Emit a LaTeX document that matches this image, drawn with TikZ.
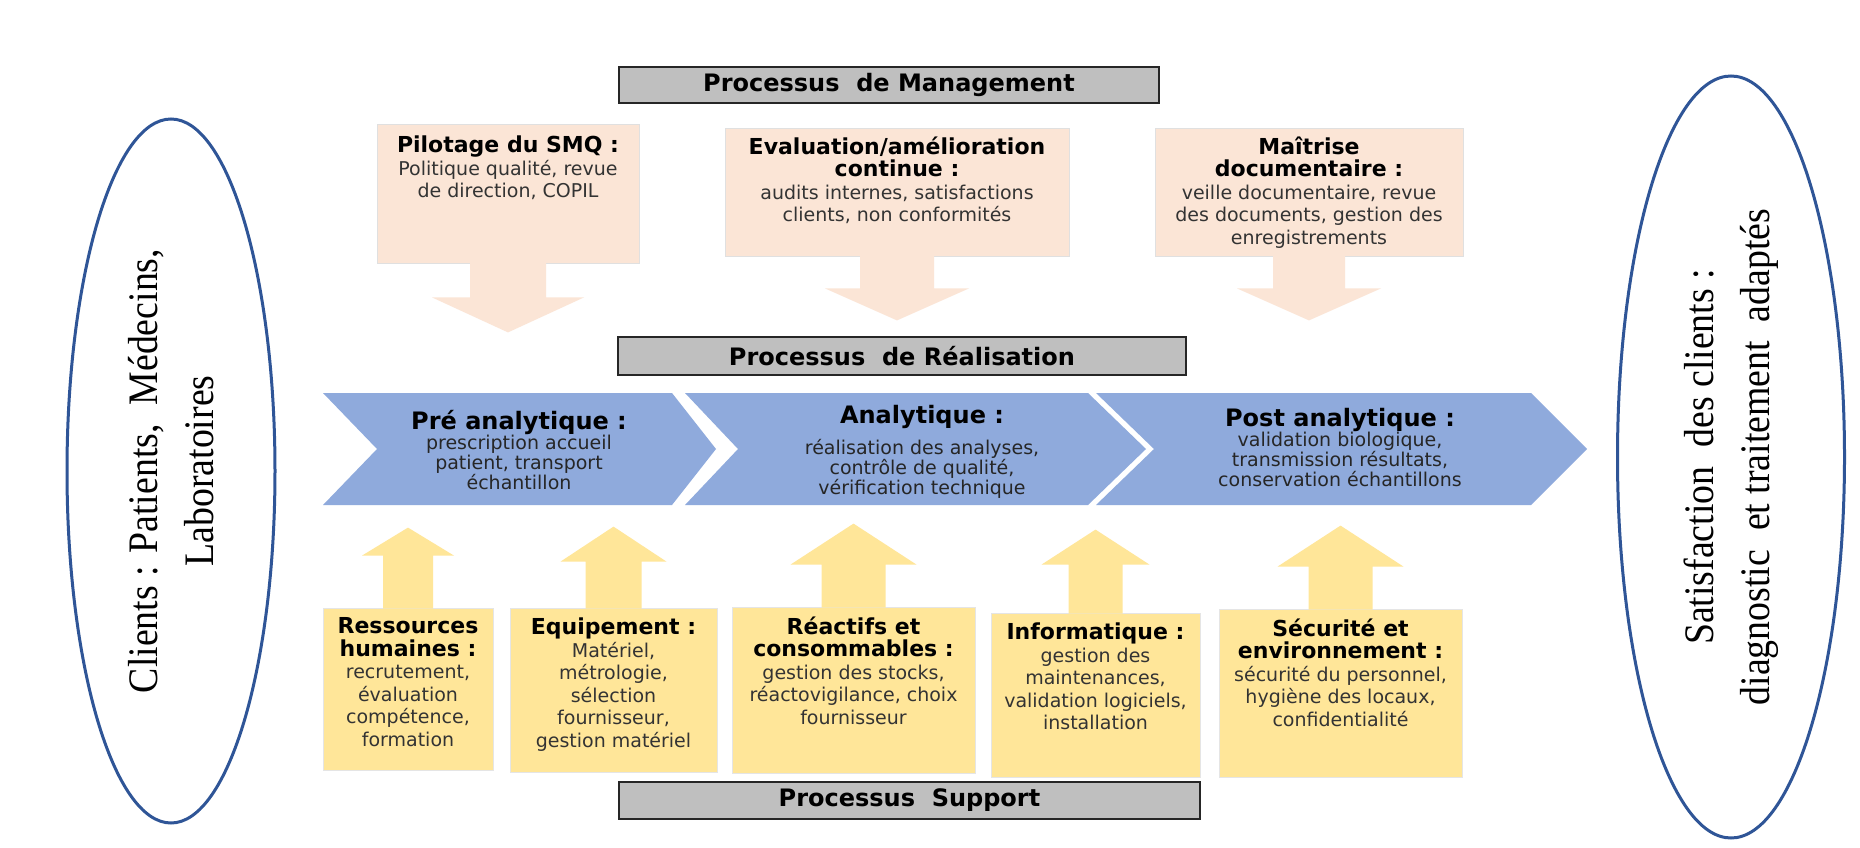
\documentclass[tikz,border=0pt]{standalone}
\usepackage{fontspec}
\setmainfont{DejaVu Sans}
\newfontfamily\ellfont[FakeStretch=0.9]{Liberation Serif}
\usetikzlibrary{positioning,shapes.geometric}
\definecolor{mgmtpeach}{HTML}{FBE5D6}
\definecolor{supyellow}{HTML}{FFE699}
\definecolor{chevblue}{HTML}{8FAADC}
\definecolor{bargray}{HTML}{BFBFBF}
\definecolor{ellblue}{HTML}{2F5597}
\newcommand{\blocktitle}[1]{{\fontsize{22}{26}\selectfont\bfseries\color{black}#1}}
\newcommand{\stagetitle}[1]{{\fontsize{24}{28}\selectfont\bfseries\color{black}#1}}
\begin{document}
\begin{tikzpicture}[x=1pt, y=-1pt,
bar/.style={draw=black!85, line width=1.5pt, fill=bargray, inner sep=0pt, font=\fontsize{24}{28}\selectfont\bfseries},
mbox/.style={draw=black!12, line width=0.8pt, fill=mgmtpeach, inner sep=0pt},
sbox/.style={draw=black!10, line width=0.8pt, fill=supyellow, inner sep=0pt},
txt/.style={align=center, inner sep=0pt, text=black!80, font=\fontsize{19}{22.5}\selectfont},
stagetxt/.style={align=center, inner sep=0pt, text=black!85, font=\fontsize{19}{20}\selectfont},
client/.style={ellipse, draw=ellblue, line width=3pt, rotate=90, inner sep=0pt, align=center, font=\ellfont\fontsize{42}{56}\selectfont}
]
\fill[white] (0,0) rectangle (1860,848);
\useasboundingbox (0,0) rectangle (1860,848);

\node[client, minimum width=704pt, minimum height=208pt] (clients) at (171,471) {Clients : Patients,\ \ Médecins,\\Laboratoires};
\node[client, minimum width=762pt, minimum height=227pt] (satis) at (1731,457) {Satisfaction\ \ des clients :\\diagnostic\ \ et traitement\ \ adaptés};

\node[bar, minimum width=540pt, minimum height=36pt] (management) at (889,85) {Processus\ \ de Management};
\node[bar, minimum width=568pt, minimum height=38pt] (realisation) at (902,356) {Processus\ \ de Réalisation};
\node[bar, minimum width=581pt, minimum height=37pt] (support) at (909.5,800.5) {Processus\ \ Support};

\node[mbox, minimum width=262pt, minimum height=139pt] (pilot) at (508,193.5) {};
\node[mbox, minimum width=344pt, minimum height=128pt] (eval) at (897,192) {};
\node[mbox, minimum width=308pt, minimum height=128pt] (docs) at (1309,192) {};
\fill[mgmtpeach] (pilot.south) ++(-38,-1) -- ++(0,35) -- ++(-38,0) -- ++(76,35) -- ++(76,-35) -- ++(-38,0) -- ++(0,-35) -- cycle;
\fill[mgmtpeach] (eval.south) ++(-37,-1) -- ++(0,33) -- ++(-35,0) -- ++(72,32) -- ++(72,-32) -- ++(-35,0) -- ++(0,-33) -- cycle;
\fill[mgmtpeach] (docs.south) ++(-36,-1) -- ++(0,33) -- ++(-36,0) -- ++(72,32) -- ++(72,-32) -- ++(-36,0) -- ++(0,-33) -- cycle;
\node[txt, below=12pt of pilot.north] (pilottext) {\blocktitle{Pilotage du SMQ :}\\Politique qualité, revue\\de direction, COPIL};
\node[txt, below=9pt of eval.north] (evaltext) {\blocktitle{Evaluation/amélioration}\\\blocktitle{continue :}\\audits internes, satisfactions\\clients, non conformités};
\node[txt, below=9pt of docs.north] (docstext) {\blocktitle{Maîtrise}\\\blocktitle{documentaire :}\\veille documentaire, revue\\des documents, gestion des\\enregistrements};

\fill[chevblue] (323,393) -- (672,393) -- (716,449) -- (672,505) -- (323,505) -- (377,449) -- cycle;
\fill[chevblue] (685,393) -- (1088,393) -- (1146,449) -- (1088,505) -- (685,505) -- (738,449) -- cycle;
\fill[chevblue] (1096,393) -- (1531,393) -- (1587,449) -- (1531,505) -- (1096,505) -- (1154,449) -- cycle;
\node[stagetxt] (pre) at (519,450) {\stagetitle{Pré analytique :}\\prescription accueil\\patient, transport\\échantillon};
\node[stagetxt] (ana) at (922,452) {\stagetitle{Analytique :}\\[10pt]réalisation des analyses,\\contrôle de qualité,\\vérification technique};
\node[stagetxt] (post) at (1340,448) {\stagetitle{Post analytique :}\\validation biologique,\\transmission résultats,\\conservation échantillons};

\node[sbox, minimum width=170pt, minimum height=162pt] (rh) at (408,689) {};
\node[sbox, minimum width=207pt, minimum height=164pt] (equip) at (613.5,690) {};
\node[sbox, minimum width=243pt, minimum height=166pt] (reac) at (853.5,690) {};
\node[sbox, minimum width=209pt, minimum height=164pt] (info) at (1095.5,695) {};
\node[sbox, minimum width=243pt, minimum height=168pt] (secu) at (1340.5,693) {};
\fill[supyellow] (rh.north) ++(-25,1) -- ++(0,-53) -- ++(-21,0) -- ++(46,-28) -- ++(46,28) -- ++(-21,0) -- ++(0,53) -- cycle;
\fill[supyellow] (equip.north) ++(-28,1) -- ++(0,-47) -- ++(-25,0) -- ++(53,-35) -- ++(53,35) -- ++(-25,0) -- ++(0,47) -- cycle;
\fill[supyellow] (reac.north) ++(-32,1) -- ++(0,-43) -- ++(-31,0) -- ++(63,-41) -- ++(63,41) -- ++(-31,0) -- ++(0,43) -- cycle;
\fill[supyellow] (info.north) ++(-27,1) -- ++(0,-49) -- ++(-27,0) -- ++(54,-35) -- ++(54,35) -- ++(-27,0) -- ++(0,49) -- cycle;
\fill[supyellow] (secu.north) ++(-32,1) -- ++(0,-43) -- ++(-31,0) -- ++(63,-41) -- ++(63,41) -- ++(-31,0) -- ++(0,43) -- cycle;
\node[txt, below=10pt of rh.north] (rhtext) {\blocktitle{Ressources}\\\blocktitle{humaines :}\\recrutement,\\évaluation\\compétence,\\formation};
\node[txt, below=10pt of equip.north] (equiptext) {\blocktitle{Equipement :}\\Matériel,\\métrologie,\\sélection\\fournisseur,\\gestion matériel};
\node[txt, below=10pt of reac.north] (reactext) {\blocktitle{Réactifs et}\\\blocktitle{consommables :}\\gestion des stocks,\\réactovigilance, choix\\fournisseur};
\node[txt, below=10pt of info.north] (infotext) {\blocktitle{Informatique :}\\gestion des\\maintenances,\\validation logiciels,\\installation};
\node[txt, below=10pt of secu.north] (secutext) {\blocktitle{Sécurité et}\\\blocktitle{environnement :}\\sécurité du personnel,\\hygiène des locaux,\\confidentialité};
\end{tikzpicture}
\end{document}
